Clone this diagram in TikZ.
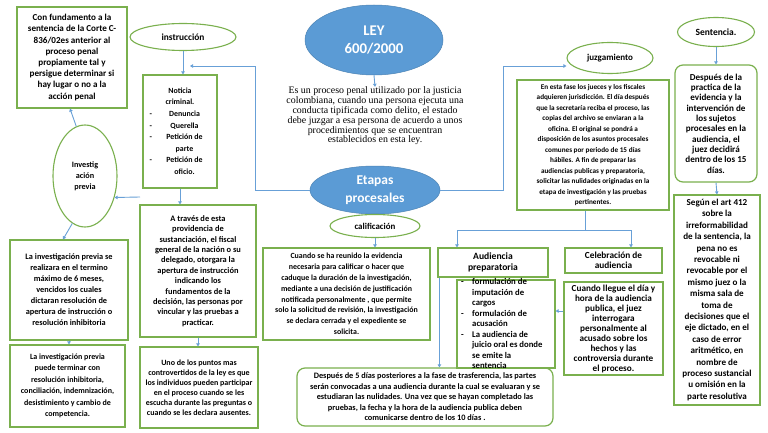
\documentclass[tikz,border=0pt]{standalone}
\usepackage{fontspec}
\usepackage{array}
\setmainfont{Carlito}
\newfontfamily\sr{Liberation Serif}
\usetikzlibrary{shapes.geometric,arrows.meta}
\definecolor{gr}{RGB}{122,176,78}
\definecolor{bl}{RGB}{91,155,213}
\definecolor{ln}{RGB}{104,160,215}
\tikzset{
  tx/.style 2 args={font=\bfseries\fontsize{#1}{#2}\selectfont},
  gbox/.style={draw=gr, line width=1.2pt, inner sep=0pt, align=center, text=black},
  gell/.style={ellipse, draw=gr, line width=1.1pt, inner sep=0pt, align=center, text=black},
  bell/.style={ellipse, fill=bl, draw=bl!85!black, line width=0.5pt, inner sep=0pt, align=center, text=white},
  conn/.style={draw=ln, line width=0.9pt},
  arr/.style={conn, -{Triangle[width=3.5pt,length=3pt]}}
}
\begin{document}
\begin{tikzpicture}[x=1pt,y=-1pt]
\useasboundingbox[fill=white] (0,0) rectangle (768,433);

% ---------- left column
\node[gbox, minimum width=110pt, minimum height=101pt, tx={9.1}{11.2}] (b1) at (72,57.5)
 {Con fundamento a la\\sentencia de la Corte C-\\836/02es anterior al\\proceso penal\\propiamente tal y\\persigue determinar si\\hay lugar o no a la\\acción penal};
\node[gell, minimum width=64pt, minimum height=102pt, tx={8.2}{11}] (inv) at (85,176) {Investig\\ación\\previa};
\node[gbox, minimum width=118pt, minimum height=100pt, tx={8.3}{11}] (li1) at (69,290)
 {La investigación previa se\\realizara en el termino\\máximo de 6 meses,\\vencidos los cuales\\dictaran resolución de\\apertura de instrucción o\\resolución inhibitoria};
\node[gbox, minimum width=115pt, minimum height=82pt, tx={8}{11.5}] (li2) at (67.5,386)
 {La investigación previa\\puede terminar con\\resolución inhibitoria,\\conciliación, indemnización,\\desistimiento y cambio de\\competencia.};

% ---------- second column
\node[gell, minimum width=106pt, minimum height=27pt, tx={9.4}{10}] (ins) at (183,37) {instrucción};
\node[gbox, minimum width=74pt, minimum height=113pt, tx={7.9}{11.6}] (not) at (180,131.5)
 {\begin{tabular}{@{}p{9pt}@{}>{\centering\arraybackslash}p{52pt}@{}}\multicolumn{2}{c}{Noticia}\\\multicolumn{2}{c}{criminal.}\\-&Denuncia\\-&Querella\\-&Petición de\\&parte\\-&Petición de\\&oficio.\end{tabular}};
\node[gbox, minimum width=116pt, minimum height=132pt, tx={8.4}{10.4}] (atr) at (198,271)
 {A través de esta\\providencia de\\sustanciación, el fiscal\\general de la nación o su\\delegado, otorgara la\\apertura de instrucción\\indicando los\\fundamentos de la\\decisión, las personas por\\vincular y las pruebas a\\practicar.};
\node[gbox, minimum width=118pt, minimum height=81pt, tx={8}{10}] (uno) at (199,387.5)
 {Uno de los puntos mas\\controvertidos de la ley es que\\los individuos pueden participar\\en el proceso cuando se les\\escucha durante las preguntas o\\cuando se les declara ausentes.};

% ---------- centre
\node[bell, minimum width=138pt, minimum height=70pt, tx={14.8}{17.5}] (ley) at (374,40) {LEY\\600/2000};
\node[font=\sr\fontsize{9.9}{9.8}\selectfont, align=center, inner sep=0pt] (par) at (375,116)
 {Es un proceso penal utilizado por la justicia\\colombiana, cuando una persona ejecuta una\\conducta tipificada como delito, el estado\\debe juzgar a esa persona de acuerdo a unos\\procedimientos que se encuentran\\establecidos en esta ley.};
\node[bell, minimum width=130pt, minimum height=48pt, tx={13.5}{18}] (eta) at (375,190) {Etapas\\procesales};
\node[gell, minimum width=90pt, minimum height=23pt, tx={8.9}{9}] (cal) at (375,226) {calificación};
\node[gbox, minimum width=167pt, minimum height=92pt, tx={7.9}{10.8}] (calb) at (346.5,294)
 {Cuando se ha reunido la evidencia\\necesaria para calificar o hacer que\\caduque la duración de la investigación,\\mediante a una decisión de justificación\\notificada personalmente , que permite\\solo la solicitud de revisión, la investigación\\se declara cerrada y el expediente se\\solicita.};

% ---------- right centre
\node[gell, minimum width=86pt, minimum height=31pt, tx={9}{10}] (juz) at (610,58) {juzgamiento};
\node[gbox, minimum width=152pt, minimum height=130pt, tx={7.2}{10.5}] (juzb) at (593,145)
 {En esta fase los jueces y los fiscales\\adquieren jurisdicción. El día después\\que la secretaría reciba el proceso, las\\copias del archivo se enviaran a la\\oficina. El original se pondrá a\\disposición de los asuntos procesales\\comunes por periodo de 15 días\\hábiles. A fin de preparar las\\audiencias publicas y preparatoria,\\solicitar las nulidades originadas en la\\etapa de investigación y las pruebas\\pertinentes.};
\node[gbox, minimum width=110pt, minimum height=29pt, tx={9.6}{11}] (aud) at (493,262.5) {Audiencia\\preparatoria};
\node[gbox, rounded corners=8pt, minimum width=256pt, minimum height=58pt, tx={8.3}{10.5}] (des) at (425,397)
 {Después de 5 días posteriores a la fase de trasferencia, las partes\\serán convocadas a una audiencia durante la cual se evaluaran y se\\estudiaran las nulidades. Una vez que se hayan completado las\\pruebas, la fecha y la hora de la audiencia publica deben\\comunicarse dentro de los 10 días .};
\node[gbox, minimum width=98pt, minimum height=88pt] (bul) at (506,324) {};
\node[anchor=north west, inner sep=0pt, tx={8.7}{10.5}, align=left] (bult) at (461,277)
 {\begin{tabular}{@{}p{11pt}@{}l@{}}-&formulación de\\&imputación de\\&cargos\\-&formulación de\\&acusación\\-&La audiencia de\\&juicio oral es donde\\&se emite la\\&sentencia\end{tabular}};
\node[gbox, minimum width=97pt, minimum height=25pt, tx={9.3}{10.5}] (cel) at (613.5,260.5) {Celebración de\\audiencia};
\node[gbox, minimum width=99pt, minimum height=93pt, tx={9.2}{10}] (cua) at (613.5,328.5)
 {Cuando llegue el día y\\hora de la audiencia\\publica, el juez\\interrogara\\personalmente al\\acusado sobre los\\hechos y las\\controversia durante\\el proceso.};

% ---------- right column
\node[gell, minimum width=77pt, minimum height=29pt, tx={9.5}{10}] (sen) at (716,32) {Sentencia.};
\node[gbox, rounded corners=8pt, minimum width=82pt, minimum height=117pt, tx={9.1}{10.3}] (pra) at (716,123.5)
 {Después de la\\practica de la\\evidencia y la\\intervención de\\los sujetos\\procesales en la\\audiencia, el\\juez decidirá\\dentro de los 15\\días.};
\node[gbox, minimum width=86pt, minimum height=210pt, tx={9.1}{11.4}] (seg) at (717,300)
 {Según el art 412\\sobre la\\irreformabilidad\\de la sentencia, la\\pena no es\\revocable ni\\revocable por el\\mismo juez o la\\misma sala de\\toma de\\decisiones que el\\eje dictado, en el\\caso de error\\aritmético, en\\nombre de\\proceso sustancial\\u omisión en la\\parte resolutiva};

% ---------- connectors
\coordinate (c1) at (190,66);
\coordinate (c1b) at (255,66);
\coordinate (c2) at (140,197);
\coordinate (c3) at (503,66);
\coordinate (j1) at (585,230);
\coordinate (ja) at (457,230);
\coordinate (jc) at (631,230);

\draw[arr] (inv.100) -- ([xshift=-2pt]b1.south);
\draw[arr] (inv.-105) -- ([xshift=-6pt]li1.north);
\draw[arr] (li1.south) -- (li1.south |- li2.north);
\draw[arr] (ins.south) -- (ins.south |- not.north);
\draw[arr] (eta.west) -| (c1b) -- (c1);
\draw[arr] (not.south) -- (not.south |- atr.north);
\draw[arr] (atr.south) -- (atr.south |- uno.north);
\draw[arr] (c2) -- (inv.-36);
\draw[arr] (ley.south) -- (par.north);
\draw[arr] (eta.east) -| (c3) -- (c3 -| juz.west);
\draw[arr] (cal.south) -- (cal.south |- calb.north);
\draw[conn] (j1 |- juzb.south) -- (j1);
\draw[conn] (ja) -- (jc);
\draw[arr] (ja) -- (ja |- aud.north);
\draw[arr] (jc) -- (jc |- cel.north);
\draw[arr] ([xshift=2pt]aud.south west) -- ([xshift=2pt]aud.south west |- des.north);
\draw[arr] ([yshift=17.5pt]cua.west) -- ([yshift=17.5pt]cua.west -| bul.east);
\draw[arr] (sen.south) -- (pra.north);
\draw[arr] (pra.south) -- (seg.north);
\end{tikzpicture}
\end{document}
